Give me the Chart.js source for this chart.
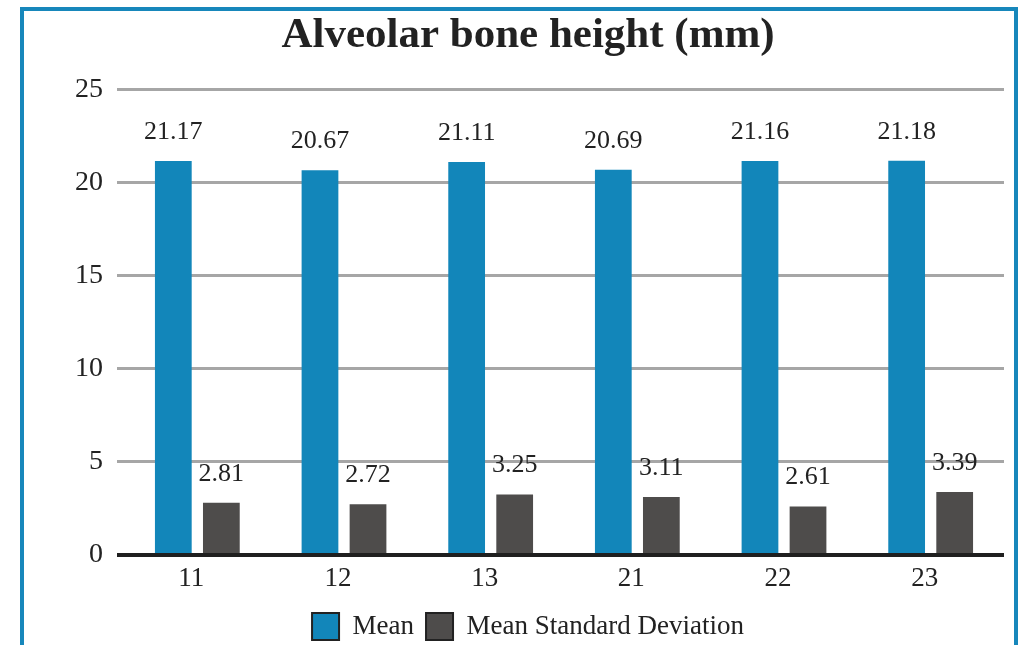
<!DOCTYPE html>
<html>
<head>
<meta charset="utf-8">
<title>Alveolar bone height (mm)</title>
<script src="https://cdn.jsdelivr.net/npm/chart.js@4.4.0/dist/chart.umd.min.js"></script>
<style>
  html, body { margin: 0; padding: 0; background: #fff; overflow: hidden; }
  #wrap { position: relative; width: 1028px; height: 645px; }
  #frame { position: absolute; left: 20px; top: 7px; width: 990px; height: 680px; border: 4px solid #1787bb; pointer-events: none; }
  canvas { position: absolute; left: 0; top: 0; }
</style>
</head>
<body>
<div id="wrap">
  <canvas id="chart" width="1028" height="650"></canvas>
  <div id="frame"></div>
</div>
<script>
// tooth numbers and measured values (mm)
const teeth = ['11', '12', '13', '21', '22', '23'];
const meanValues = [21.17, 20.67, 21.11, 20.69, 21.16, 21.18];
const sdValues = [2.81, 2.72, 3.25, 3.11, 2.61, 3.39];
const seriesNames = ['Mean', 'Mean Standard Deviation'];
const yTicks = [0, 5, 10, 15, 20, 25];

const serif = '"Liberation Serif", "Times New Roman", serif';
const textColor = '#222';

// value labels above each bar
const valueLabels = {
    id: 'valueLabels',
    afterDatasetsDraw(chart) {
        const ctx = chart.ctx;
        ctx.save();
        ctx.font = '26px ' + serif;
        ctx.fillStyle = textColor;
        ctx.textAlign = 'center';
        ctx.textBaseline = 'middle';
        chart.data.datasets.forEach((ds, i) => {
            chart.getDatasetMeta(i).data.forEach((bar, j) => {
                ctx.fillText(ds.data[j].toFixed(2), bar.x, bar.y - 29);
            });
        });
        ctx.restore();
    }
};

const ctx = document.getElementById('chart').getContext('2d');
new Chart(ctx, {
    type: 'bar',
    data: {
        labels: teeth,
        datasets: [
            {
                label: seriesNames[0],
                data: meanValues,
                backgroundColor: '#1286ba',
                borderWidth: 0,
            },
            {
                label: seriesNames[1],
                data: sdValues,
                backgroundColor: '#4e4c4b',
                borderWidth: 0,
            },
        ],
    },
    options: {
        responsive: false,
        animation: false,
        categoryPercentage: 0.655,
        barPercentage: 0.765,
        layout: {
            padding: { left: 52, right: 24, top: 0, bottom: 0 },
        },
        plugins: {
            title: {
                display: true,
                text: 'Alveolar bone height (mm)',
                color: textColor,
                font: { family: serif, size: 43, weight: 'bold' },
                padding: { top: 10, bottom: 28 },
            },
            legend: {
                display: true,
                position: 'bottom',
                labels: {
                    color: textColor,
                    font: { family: serif, size: 27 },
                    boxWidth: 27,
                    boxHeight: 27,
                    padding: 12,
                    generateLabels(chart) {
                        const items = Chart.defaults.plugins.legend.labels.generateLabels(chart);
                        items.forEach(it => {
                            it.strokeStyle = '#222';
                            it.lineWidth = 2;
                        });
                        return items;
                    },
                },
            },
            tooltip: { enabled: false },
        },
        scales: {
            x: {
                grid: { display: false, drawTicks: false },
                border: { display: false },
                ticks: {
                    color: textColor,
                    font: { family: serif, size: 27 },
                    padding: 8,
                    labelOffset: -6,
                },
                afterFit(scale) { scale.height = 46; },
            },
            y: {
                min: yTicks[0],
                max: yTicks[yTicks.length - 1],
                afterBuildTicks(scale) { scale.ticks = yTicks.map(v => ({ value: v })); },
                grid: {
                    color: c => (c.tick && c.tick.value === 0 ? '#1f1f1f' : '#a6a6a6'),
                    lineWidth: c => (c.tick && c.tick.value === 0 ? 4 : 3),
                    drawTicks: true,
                    tickLength: 7,
                },
                border: { display: false },
                ticks: {
                    color: textColor,
                    font: { family: serif, size: 28 },
                    padding: 14,
                },
                afterFit(scale) { scale.width = 72; },
            },
        },
    },
    plugins: [valueLabels],
});
</script>
</body>
</html>
